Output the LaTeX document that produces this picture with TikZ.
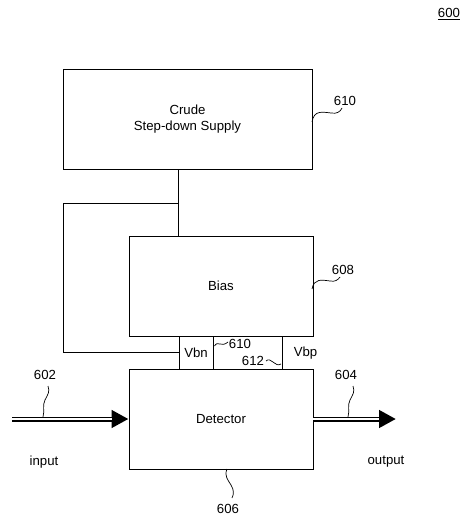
\documentclass[tikz,border=0pt]{standalone}
\usepackage{fontspec}
\setmainfont{Liberation Sans}
\usetikzlibrary{arrows.meta}
\tikzset{
  lbl/.style={font=\fontsize{13.2}{15.5}\selectfont, inner sep=0pt},
  blk/.style={draw, line width=0.9pt, inner sep=0pt, font=\fontsize{13.2}{15.5}\selectfont, align=center},
  wire/.style={line width=0.9pt},
  lead/.style={line width=0.7pt},
  busblack/.style={line width=5pt, -{Triangle[length=17pt,width=17pt]}},
  buswhite/.style={white, line width=1.4pt, shorten >=17pt}
}
\begin{document}
\begin{tikzpicture}[x=1pt,y=-1pt]
\useasboundingbox (0,0) rectangle (474,527);
% blocks
\node[blk, minimum width=249pt, minimum height=100pt] (sup) at (187.5,119) {Crude\\[1pt]Step-down Supply};
\node[blk, minimum width=184pt, minimum height=100pt] (bias) at (221,286) {Bias};
\node[blk, minimum width=184pt, minimum height=100pt] (det) at (221,419) {Detector};
% strip cells
\node[blk, minimum width=34pt, minimum height=33pt] (vbn) at (196,352.5) {Vbn};
\node[blk, minimum width=69pt, minimum height=33pt] (mid) at (247.5,352.5) {};
\node[lbl] (vbp) at (305.5,353) {Vbp};
\node[lbl] (l610b) at (240,344) {610};
\node[lbl] (l612) at (253,361) {612};
\draw[lead] (214.5,346) .. controls (218,340) and (221,348) .. (228,342);
\draw[lead] (266,361) .. controls (271,356) and (275,368) .. (281,364);
% wiring
\coordinate (j) at (179,203);
\coordinate (lc) at (63,352.5);
\draw[wire] (sup.south -| vbn.west) -- (bias.north -| vbn.west);
\draw[wire] (j) -| (lc) -- (vbn.west);
% input / output buses
\coordinate (inS) at (12,419);
\coordinate (outE) at (396,419);
\draw[busblack] (inS) -- (det.west);
\draw[buswhite] (inS) -- (det.west);
\draw[busblack] (det.east) -- (outE);
\draw[buswhite] (det.east) -- (outE);
% labels
\node[lbl] (l602) at (45,375) {602};
\node[lbl] (l604) at (346,375) {604};
\node[lbl] (lin) at (44,462) {input};
\node[lbl] (lout) at (386,462) {output};
\node[lbl] (l606) at (228,509) {606};
\node[lbl] (l610) at (345,101) {610};
\node[lbl] (l608) at (343,270) {608};
\node[lbl] (l600) at (449,14) {\underline{600}};
% leaders
\draw[lead] (312,122) .. controls (314,110) and (322,112) .. (331,113) .. controls (337,114) and (340,112) .. (342,108);
\draw[lead] (312,289) .. controls (314,278) and (322,280) .. (330,281) .. controls (335,282) and (338,280) .. (340,277);
\draw[lead] (227,469) .. controls (224,476) and (228,480) .. (231,485) .. controls (234,490) and (234,494) .. (232,498);
\draw[lead] (43,417) .. controls (45,410) and (42,406) .. (45,400) .. controls (48,394) and (50,392) .. (48,386);
\draw[lead] (348,417) .. controls (350,410) and (347,406) .. (350,400) .. controls (353,394) and (355,392) .. (353,386);
\end{tikzpicture}
\end{document}
